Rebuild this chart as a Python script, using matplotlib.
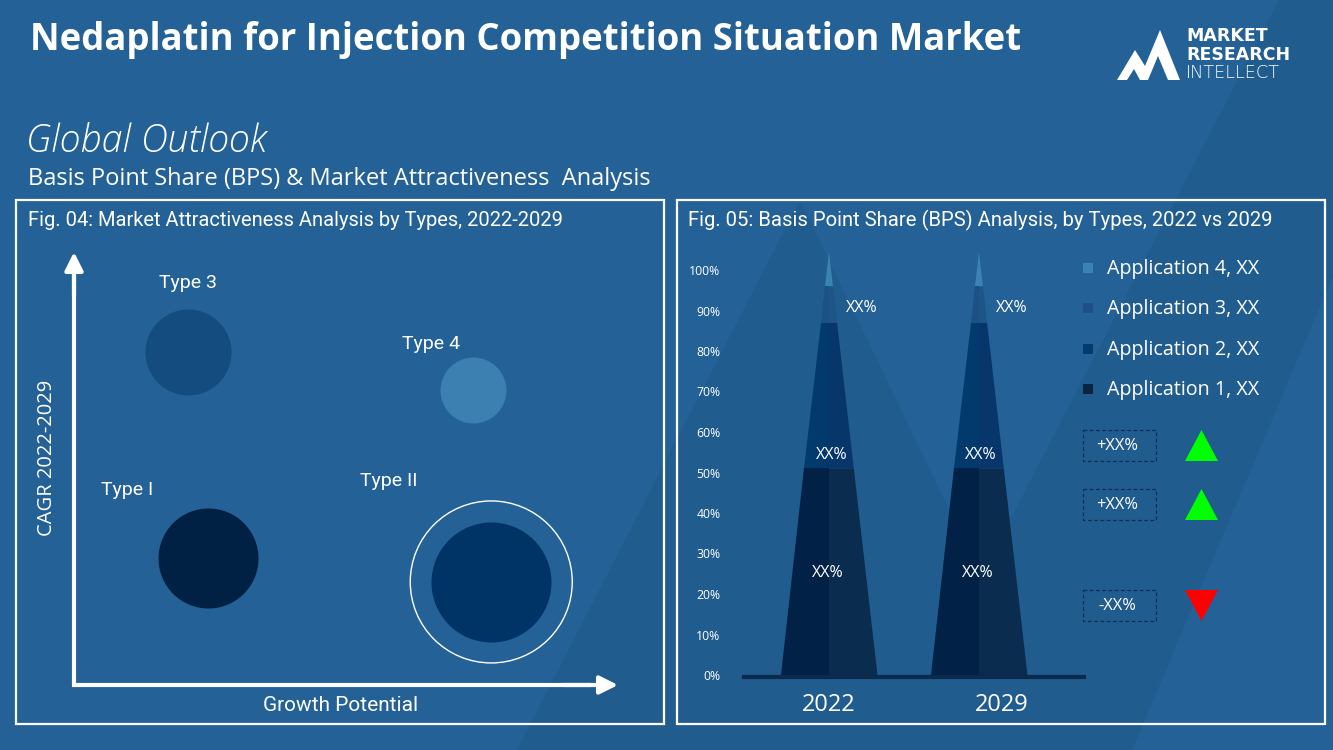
import matplotlib.pyplot as plt
import matplotlib.patches as mpatches

# ---- data ----
types = ['Type 3', 'Type 4', 'Type I', 'Type II']
growth = [21.0, 73.3, 24.6, 76.7]       # x, growth potential (0-100)
cagr = [76.9, 68.1, 29.3, 23.8]         # y, CAGR 2022-2029 (0-100)
bubble_size = [43, 33, 50, 60]          # radius, px
bubble_colors = ['#144c80', '#3b80b1', '#012144', '#003466']
label_offsets = [(0, 69), (-42, 46), (-81, 68), (-102, 101)]

years = ['2022', '2029']
apps = ['Application 1, XX', 'Application 2, XX', 'Application 3, XX', 'Application 4, XX']
shares_2022 = [51, 36, 9, 4]
shares_2029 = [51, 36, 9, 4]
share_labels = ['XX%', 'XX%', 'XX%']
changes = ['+XX%', '+XX%', '-XX%']
change_up = [True, True, False]

bg = '#236196'
app_left = ['#012246', '#023a6e', '#1b5185', '#3c83b4']
app_right = ['#0a2c4f', '#07376a', '#1f5486', '#3c83b4']

plt.rcParams['font.family'] = ['Open Sans', 'DejaVu Sans']

fig = plt.figure(figsize=(13.33, 7.5), dpi=100)
fig.patch.set_facecolor(bg)

# background / decoration layer in pixel coords
base = fig.add_axes([0, 0, 1, 1], zorder=0)
base.set_xlim(0, 1333)
base.set_ylim(750, 0)
base.axis('off')

base.add_patch(mpatches.Polygon([(517, 750), (800, 200), (1065, 750)], closed=True,
                                color='#215c8f', lw=0))
base.add_patch(mpatches.Polygon([(891, 750), (1279, 0), (1333, 0), (1333, 750)], closed=True,
                                color='#215c8f', lw=0))
base.add_patch(mpatches.Polygon([(1132, 750), (1333, 276), (1333, 750)], closed=True,
                                color=bg, lw=0))

# titles
base.text(30, 40, 'Nedaplatin for Injection Competition Situation Market', color='white',
          fontsize=26.3, fontweight='bold', va='center', ha='left')
base.text(26, 142, 'Global Outlook', color='white', fontsize=27, style='italic',
          fontweight='light', va='center')
base.text(28, 179, 'Basis Point Share (BPS) & Market Attractiveness  Analysis', color='white',
          fontsize=17, va='center')

# logo
base.add_patch(mpatches.Polygon([(1117, 80), (1135, 50), (1145, 66), (1160, 30), (1180, 80),
                                 (1168, 80), (1158, 56), (1148, 80), (1140, 80), (1134, 69),
                                 (1127, 80)], closed=True, color='white', lw=0))
base.text(1186, 36, 'MARKET', color='white', fontsize=12.5, fontweight='bold',
          family='DejaVu Sans', va='center')
base.text(1186, 55, 'RESEARCH', color='white', fontsize=12.5, fontweight='bold',
          family='DejaVu Sans', va='center')
base.text(1186, 73, 'INTELLECT', color='white', fontsize=12.8, fontweight='light',
          family='DejaVu Sans', va='center')

# panels
for x0 in (16, 677):
    base.add_patch(mpatches.Rectangle((x0, 200), 648, 524, fill=False, ec='white', lw=1.6))
base.text(28, 220, 'Fig. 04: Market Attractiveness Analysis by Types, 2022-2029', color='white',
          fontsize=14.5, family='Roboto', va='center')
base.text(688, 220, 'Fig. 05: Basis Point Share (BPS) Analysis, by Types, 2022 vs 2029', color='white',
          fontsize=14.6, family='Roboto', va='center')

# ---- Fig 04: bubbles ----
ax1 = fig.add_axes([74 / 1333, 65 / 750, 544 / 1333, 433 / 750], zorder=2)
ax1.set_xlim(0, 100)
ax1.set_ylim(0, 100)
ax1.axis('off')
for i, t in enumerate(types):
    d = 2 * bubble_size[i] * 0.72
    ax1.scatter(growth[i], cagr[i], s=d ** 2, color=bubble_colors[i], lw=0, zorder=3)
    ax1.annotate(t, (growth[i], cagr[i]), xytext=(label_offsets[i][0] * 0.72, label_offsets[i][1] * 0.72),
                 textcoords='offset points', color='white', fontsize=14, family='Roboto',
                 ha='center', va='center')
# ring around the largest
big = bubble_size.index(max(bubble_size))
ax1.scatter(growth[big], cagr[big], s=(2 * 81 * 0.72) ** 2, facecolor='none', edgecolor='white',
            lw=1, zorder=2)

ax1.plot([0, 0, 0.95], [0.95, 0, 0], transform=ax1.transAxes, color='white', lw=3,
         solid_joinstyle='miter', solid_capstyle='butt', clip_on=False)
arrow = dict(arrowstyle='-|>,head_length=1.1,head_width=0.55', color='white', lw=3,
             shrinkA=0, shrinkB=0)
ax1.annotate('', xy=(1, 0), xytext=(0.9, 0), xycoords='axes fraction', arrowprops=arrow)
ax1.annotate('', xy=(0, 1), xytext=(0, 0.9), xycoords='axes fraction', arrowprops=arrow)
ax1.text(-0.05, 0.524, 'CAGR 2022-2029', transform=ax1.transAxes, rotation=90, color='white',
         fontsize=14.5, ha='center', va='center')
ax1.text(0.49, -0.047, 'Growth Potential', transform=ax1.transAxes, color='white',
         fontsize=15, family='Roboto', ha='center', va='center')

# ---- Fig 05: BPS cones ----
ax2 = fig.add_axes([744 / 1333, 75 / 750, 340 / 1333, 405 / 750], zorder=2)
ax2.set_facecolor('none')
ax2.set_xlim(-0.567, 1.7)
ax2.set_ylim(0, 100)
for s in ax2.spines.values():
    s.set_visible(False)
ax2.set_xticks([])
ax2.set_yticks(range(0, 101, 10))
ax2.set_yticklabels([f'{v}%' for v in range(0, 101, 10)], color='white', fontsize=8.8)
ax2.tick_params(axis='y', length=0, pad=17)

apex = 104.4
hw = 0.323


def width_at(h):
    return hw * (1 - h / apex)


for i, shares in enumerate([shares_2022, shares_2029]):
    lo = 0
    for j, v in enumerate(shares):
        hi = lo + v if j < len(shares) - 1 else apex
        ax2.add_patch(mpatches.Polygon([(i - width_at(lo), lo), (i, lo), (i, hi), (i - width_at(hi), hi)],
                                       closed=True, color=app_left[j], lw=0, clip_on=False, zorder=3))
        ax2.add_patch(mpatches.Polygon([(i, lo), (i + width_at(lo), lo), (i + width_at(hi), hi), (i, hi)],
                                       closed=True, color=app_right[j], lw=0, clip_on=False, zorder=3))
        if j == 0:
            ax2.text(i - 0.01, 25.2, share_labels[0], color='white', fontsize=11.5, ha='center',
                     va='center', zorder=5)
        elif j == 1:
            ax2.text(i + 0.015, 54.3, share_labels[1], color='white', fontsize=11.5, ha='center',
                     va='center', zorder=5)
        elif j == 2:
            ax2.text(i + 0.22, 90.6, share_labels[2], color='white', fontsize=11.5, ha='center',
                     va='center', zorder=5)
        lo += v
    ax2.text(i + (0.153 if i == 1 else 0), -7.3, years[i], color='white', fontsize=17,
             ha='center', va='center')

ax2.axhline(-0.5, color='#0b2a4d', lw=3, zorder=4, clip_on=False)

# legend
for k, j in enumerate(range(len(apps) - 1, -1, -1)):
    y = 268 + k * 40.3
    base.add_patch(mpatches.Rectangle((1083, y - 5), 10, 10, color=app_left[j] if j else '#0a2442',
                                      lw=0, zorder=3))
    base.text(1107, y + 1, apps[j], color='white', fontsize=14.2, va='center', zorder=3)

# change boxes
box_y = [430, 489, 590]
for k, c in enumerate(changes):
    y0 = box_y[k]
    base.add_patch(mpatches.Rectangle((1083, y0), 73, 31, fill=False, ec='#0f2d52', lw=0.9,
                                      ls=(0, (3, 2)), zorder=3))
    base.text(1117, y0 + 16, c, color='white', fontsize=11.8, ha='center', va='center', zorder=3)
    if change_up[k]:
        tri = [(1185, y0 + 31), (1218, y0 + 31), (1201.5, y0)]
        col = '#00ff00'
    else:
        tri = [(1185, y0), (1218, y0), (1201.5, y0 + 31)]
        col = '#ff0000'
    base.add_patch(mpatches.Polygon(tri, closed=True, color=col, lw=0, zorder=3))

fig.savefig('out.png', dpi=100, facecolor=bg)
